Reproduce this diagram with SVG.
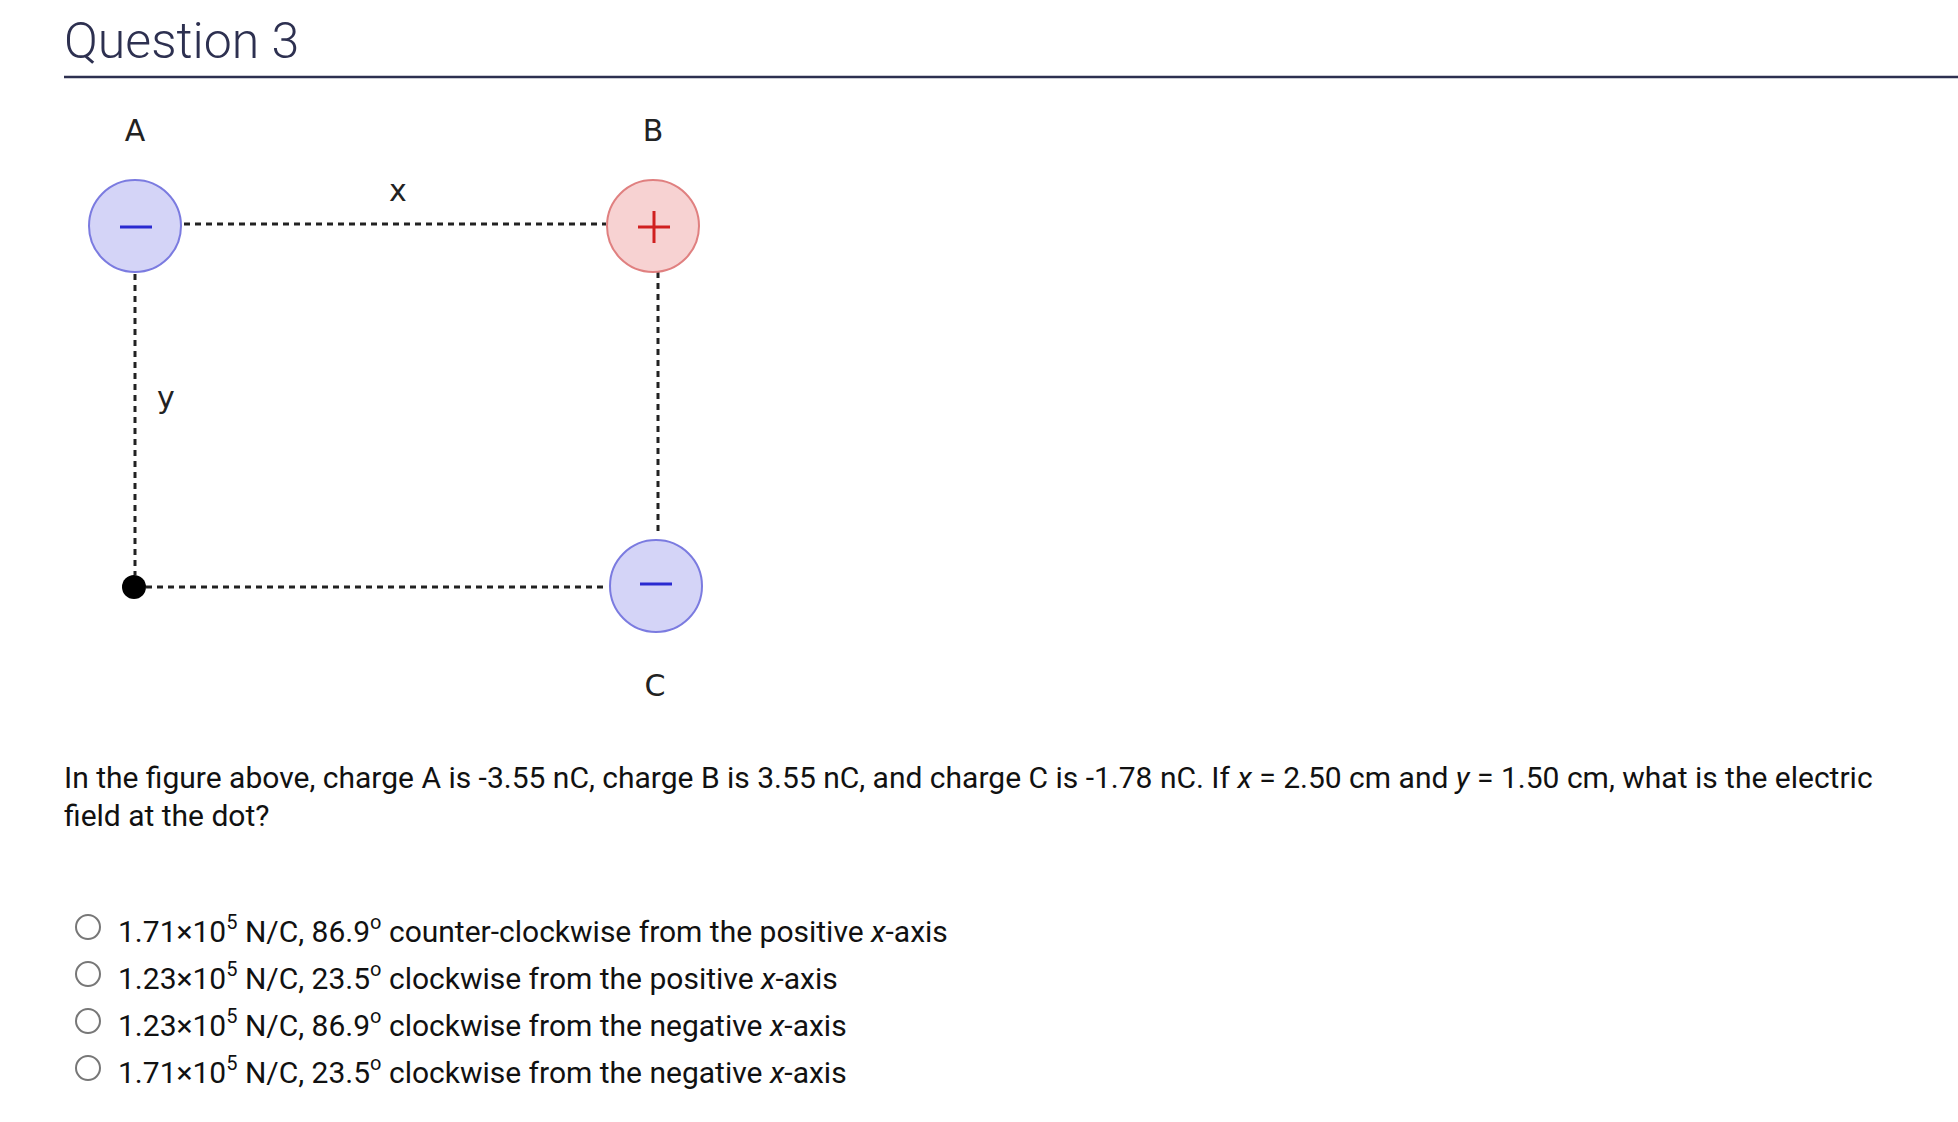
<svg xmlns="http://www.w3.org/2000/svg" width="1958" height="1122" viewBox="0 0 1958 1122">
<style>
.t{font-family:Roboto,"Liberation Sans",sans-serif;font-size:30px;fill:#111}
.lab{font-family:"DejaVu Sans","Liberation Sans",sans-serif;font-size:30px;fill:#222}
.dash{stroke:#222;stroke-width:3;stroke-dasharray:6 5;fill:none}
.neg{fill:#d4d4f7;stroke:#7b7be0;stroke-width:2}
.pos{fill:#f7d2d2;stroke:#e08080;stroke-width:2}
.radio{fill:#fff;stroke:#777;stroke-width:2}
.sup{font-size:20px}
</style>
<rect width="1958" height="1122" fill="#fff"/>
<text x="64" y="58" style="font-family:Roboto,'Liberation Sans',sans-serif;font-size:50px;font-weight:300;fill:#2d3050">Question 3</text>
<line x1="64" y1="77" x2="1958" y2="77" stroke="#2d3050" stroke-width="2.5"/>
<g id="connectors">
<line class="dash" x1="184" y1="224" x2="606" y2="224"/>
<line class="dash" x1="135" y1="274" x2="135" y2="575"/>
<line class="dash" x1="658" y1="272" x2="658" y2="536"/>
<line class="dash" x1="146" y1="587" x2="608" y2="587"/>
</g>
<g id="labels">
<text class="lab" x="135" y="141" text-anchor="middle">A</text>
<text class="lab" x="653" y="141" text-anchor="middle">B</text>
<text class="lab" x="655" y="696" text-anchor="middle">C</text>
<text class="lab" x="398" y="201" text-anchor="middle">x</text>
<text class="lab" x="166" y="408" text-anchor="middle">y</text>
</g>
<g id="A"><circle class="neg" cx="135" cy="226" r="46"/><line x1="120" y1="227" x2="152" y2="227" stroke="#2a2ad0" stroke-width="3"/></g>
<g id="B"><circle class="pos" cx="653" cy="226" r="46"/><line x1="638" y1="227" x2="670" y2="227" stroke="#d02020" stroke-width="3"/><line x1="654" y1="211" x2="654" y2="243" stroke="#d02020" stroke-width="3"/></g>
<g id="C"><circle class="neg" cx="656" cy="586" r="46"/><line x1="640" y1="584" x2="672" y2="584" stroke="#2a2ad0" stroke-width="3"/></g>
<g id="dot"><circle cx="134" cy="587" r="12" fill="#000"/></g>
<text class="t" x="64" y="788">In the figure above, charge A is -3.55 nC, charge B is 3.55 nC, and charge C is -1.78 nC. If <tspan font-style="italic">x</tspan> = 2.50 cm and <tspan font-style="italic">y</tspan> = 1.50 cm, what is the electric</text>
<text class="t" x="64" y="826">field at the dot?</text>
<g id="options">
<circle class="radio" cx="88" cy="927" r="12"/>
<text class="t" x="118" y="942">1.71×10<tspan class="sup" dy="-13">5</tspan><tspan dy="13"> N/C, 86.9</tspan><tspan class="sup" dy="-13">o</tspan><tspan dy="13"> counter-clockwise from the positive </tspan><tspan font-style="italic">x</tspan>-axis</text>
<circle class="radio" cx="88" cy="974" r="12"/>
<text class="t" x="118" y="989">1.23×10<tspan class="sup" dy="-13">5</tspan><tspan dy="13"> N/C, 23.5</tspan><tspan class="sup" dy="-13">o</tspan><tspan dy="13"> clockwise from the positive </tspan><tspan font-style="italic">x</tspan>-axis</text>
<circle class="radio" cx="88" cy="1021" r="12"/>
<text class="t" x="118" y="1036">1.23×10<tspan class="sup" dy="-13">5</tspan><tspan dy="13"> N/C, 86.9</tspan><tspan class="sup" dy="-13">o</tspan><tspan dy="13"> clockwise from the negative </tspan><tspan font-style="italic">x</tspan>-axis</text>
<circle class="radio" cx="88" cy="1068" r="12"/>
<text class="t" x="118" y="1083">1.71×10<tspan class="sup" dy="-13">5</tspan><tspan dy="13"> N/C, 23.5</tspan><tspan class="sup" dy="-13">o</tspan><tspan dy="13"> clockwise from the negative </tspan><tspan font-style="italic">x</tspan>-axis</text>
</g>
</svg>
